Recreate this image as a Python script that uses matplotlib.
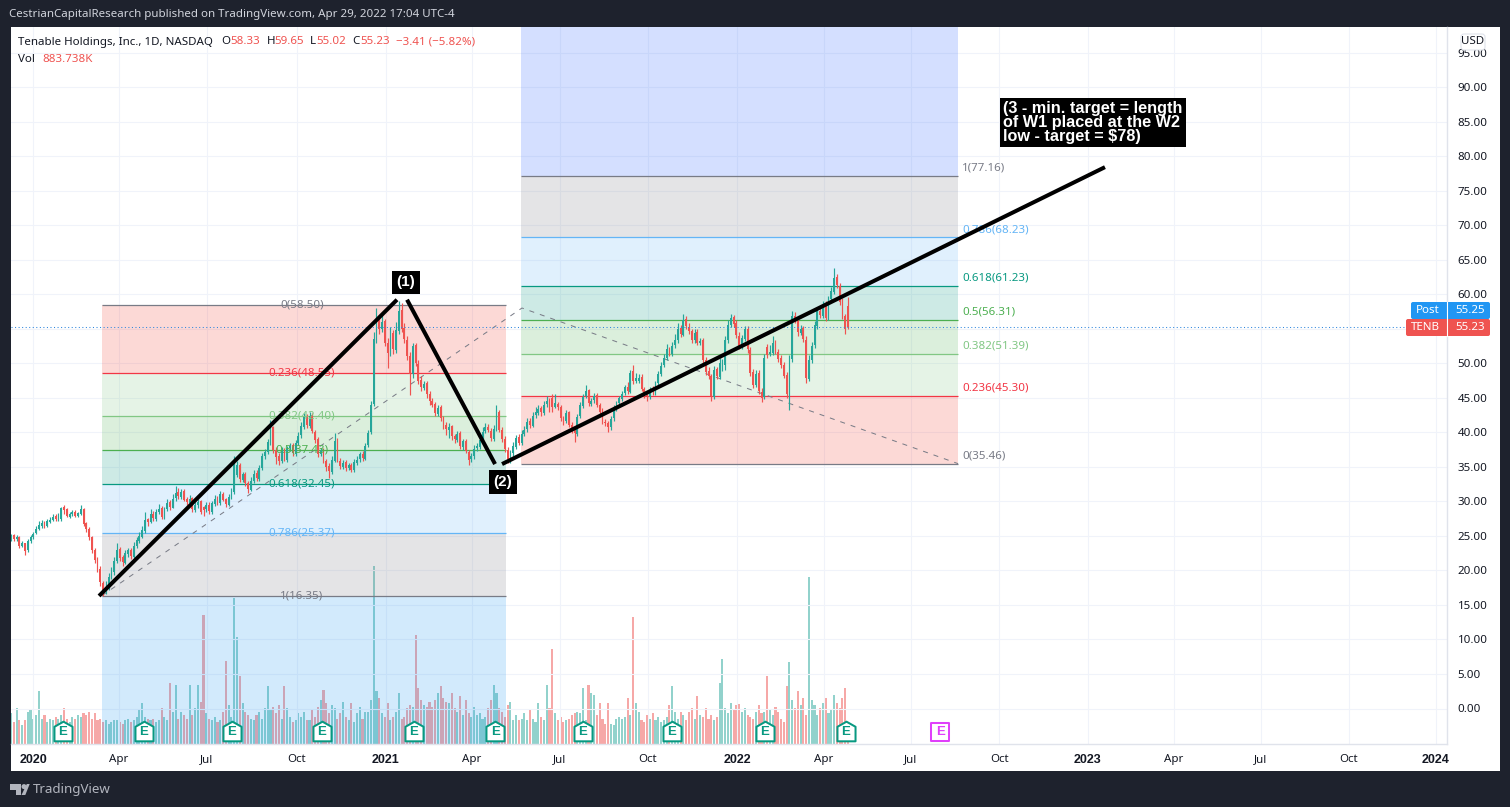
import matplotlib
matplotlib.use("Agg")
import matplotlib.pyplot as plt
import numpy as np
from matplotlib.path import Path
from matplotlib.patches import FancyBboxPatch, Polygon, Circle
from matplotlib.transforms import Affine2D

W, H = 1510, 807
plt.rcParams['font.family'] = ['Noto Sans', 'DejaVu Sans']
FS = 8.3
BOLD = ['Liberation Sans', 'DejaVu Sans']

closes = [25.0,24.6,24.9,23.6,23.9,22.8,24.2,24.9,25.3,26.0,
 26.6,26.9,26.4,27.1,27.3,27.8,27.4,28.0,29.0,28.7,
 27.9,28.1,28.4,27.9,28.3,28.9,26.7,26.0,24.9,23.0,
 21.5,20.2,18.3,17.2,17.6,19.0,19.6,21.3,23.0,21.8,
 21.2,22.5,22.9,22.1,23.6,24.4,25.0,25.8,27.3,27.0,
 28.1,27.6,28.4,28.9,27.8,28.9,29.8,29.2,30.4,31.2,
 30.8,31.4,30.2,29.9,30.4,28.9,29.5,29.9,28.5,28.8,
 29.4,28.6,29.7,30.4,29.9,31.0,30.2,29.6,30.6,31.2,
 35.7,35.2,33.2,33.9,32.6,31.8,33.0,34.0,33.4,34.8,
 36.6,37.1,38.6,40.6,37.5,36.4,35.9,37.3,36.1,37.6,
 38.0,37.0,38.5,39.5,40.9,42.2,41.0,42.4,40.2,38.9,
 36.9,37.3,35.9,35.0,34.4,36.0,38.8,36.0,35.1,35.6,
 34.9,35.2,34.6,35.7,36.0,36.8,36.3,38.0,39.9,44.0,
 53.5,56.5,55.0,56.0,53.0,51.5,54.3,52.0,54.8,57.6,
 55.0,53.5,51.0,48.5,52.5,50.0,47.5,46.5,47.0,45.5,
 44.6,44.0,42.8,43.5,42.0,41.0,40.5,40.8,39.5,39.0,
 39.8,38.0,38.7,37.3,36.0,36.6,37.6,38.0,38.9,40.1,
 40.7,40.3,39.2,40.5,42.9,40.4,39.0,37.6,36.2,36.9,
 38.0,39.2,38.5,39.8,40.4,41.5,41.0,42.4,42.9,43.4,
 42.9,44.0,44.6,43.4,43.6,44.2,43.6,42.1,41.6,42.8,
 41.1,40.2,39.9,42.2,43.9,45.1,46.0,44.2,44.6,45.3,
 44.0,43.0,41.6,41.3,40.8,41.9,43.5,44.2,44.9,45.6,
 46.5,46.0,48.6,47.5,47.8,47.9,46.3,45.4,45.2,46.1,
 45.8,47.1,48.5,49.6,50.8,52.0,51.4,52.5,53.4,55.0,
 54.2,56.3,55.4,54.6,53.4,54.4,53.0,53.2,50.5,48.8,
 48.2,45.2,49.0,48.1,50.1,49.9,53.4,55.5,56.6,55.7,
 54.1,52.4,53.6,54.9,52.0,48.6,46.9,48.5,46.0,45.0,
 50.8,51.2,51.6,53.0,51.8,50.6,49.8,48.2,45.5,50.5,
 56.8,56.2,54.5,55.0,53.5,47.8,50.5,52.5,55.5,57.5,
 57.0,58.5,56.6,59.2,60.4,62.4,61.3,58.9,56.9,54.9,55.23]

opens = [24.6,25.1,24.5,24.9,23.6,23.9,22.9,24.2,24.9,25.4,
 26.0,26.5,26.9,26.5,27.0,27.3,27.9,27.3,27.4,29.2,
 28.9,27.8,28.1,28.5,27.9,28.2,28.9,26.8,26.0,24.9,
 23.0,21.6,20.2,18.2,17.1,17.7,19.1,19.7,21.4,23.1,
 21.9,21.1,22.4,23.0,22.0,23.5,24.3,24.9,25.7,27.4,
 27.0,28.2,27.5,28.5,29.0,27.7,28.9,29.9,29.1,30.5,
 31.3,30.7,31.5,30.3,29.8,30.5,28.8,29.4,30.0,29.2,
 28.9,29.5,28.5,29.6,30.5,29.8,31.1,30.3,29.5,30.7,
 31.3,33.8,35.3,33.1,34.0,32.7,31.7,32.9,34.1,33.3,
 34.9,36.5,37.2,38.5,40.7,37.4,36.5,35.8,37.4,36.0,
 37.7,38.1,36.9,38.4,39.6,40.8,42.3,40.9,42.5,40.1,
 39.0,36.8,37.4,35.8,35.1,34.3,35.9,38.9,35.9,35.0,
 35.7,34.8,35.3,34.5,35.6,36.1,36.9,36.2,38.1,40.0,
 44.1,53.6,56.6,54.9,56.1,52.9,51.4,54.4,51.9,54.7,
 57.7,55.1,53.4,51.1,48.4,52.6,49.9,47.6,46.4,47.1,
 45.6,44.5,44.1,42.7,43.6,41.9,41.1,40.4,40.9,39.4,
 38.9,39.9,37.9,38.8,37.2,36.1,36.5,37.7,37.9,39.0,
 40.2,40.8,40.2,39.1,40.6,43.0,40.3,39.1,37.5,36.1,
 37.0,37.9,39.3,38.4,39.7,40.5,41.6,40.9,42.5,42.8,
 43.5,42.8,44.1,44.7,45.0,43.7,44.1,43.7,42.0,41.7,
 42.9,41.0,40.3,39.8,42.3,43.8,45.2,46.1,44.1,44.7,
 45.4,43.9,43.1,41.5,41.4,40.7,42.0,43.4,44.3,44.8,
 45.7,46.6,45.9,48.9,47.4,47.5,48.0,46.2,45.5,45.1,
 46.2,45.7,47.2,48.4,49.7,50.7,52.1,51.3,52.6,53.3,
 55.1,54.1,56.4,55.3,54.7,53.3,54.5,52.9,53.3,50.4,
 48.9,48.1,45.1,49.1,48.0,49.2,49.8,53.3,55.6,56.7,
 55.8,54.0,52.5,53.5,55.0,51.9,48.7,46.8,48.6,45.9,
 45.1,52.4,51.3,51.5,53.1,51.7,50.7,49.7,48.3,45.4,
 50.6,56.9,56.1,54.4,55.1,53.4,47.7,50.4,52.6,55.4,
 57.6,56.9,58.6,56.5,59.3,60.3,62.5,61.2,59.0,56.8,58.33]

highs = [25.3,25.2,25.1,25.0,24.3,24.0,24.5,25.1,25.6,26.4,
 27.1,27.3,27.1,27.4,27.7,28.2,28.1,28.3,29.2,29.5,
 29.0,28.4,28.7,28.7,28.5,29.4,29.0,27.0,26.3,25.0,
 23.2,21.9,20.6,18.5,18.4,19.6,20.5,22.0,24.0,23.4,
 22.3,23.0,23.3,23.2,24.1,24.9,25.5,26.4,28.5,27.6,
 28.9,28.6,28.9,29.6,29.3,29.2,30.4,30.2,31.1,32.2,
 31.9,31.8,31.8,30.6,30.9,30.7,29.9,30.3,30.2,29.3,
 29.9,29.9,30.0,30.9,30.8,31.5,31.4,30.5,31.0,31.9,
 36.5,35.8,35.5,34.3,34.2,33.0,33.5,34.6,34.5,35.3,
 37.0,37.6,39.1,41.8,40.9,37.9,37.0,37.8,37.7,38.0,
 38.5,38.4,38.9,40.0,41.5,42.8,42.6,42.9,42.8,40.4,
 39.3,37.7,37.7,36.2,35.5,36.5,39.9,39.2,36.3,36.0,
 36.0,35.6,35.6,36.1,36.6,37.2,37.3,38.5,40.4,44.5,
 54.5,58.0,57.0,57.3,56.4,53.6,55.2,54.8,56.0,59.0,
 58.7,55.9,53.9,51.6,53.0,52.9,50.4,48.2,47.5,47.4,
 46.0,45.0,44.4,44.0,43.9,42.4,41.5,41.3,41.1,39.8,
 40.2,40.2,39.1,39.1,37.5,37.0,38.2,38.4,39.4,40.8,
 41.3,41.2,40.6,41.0,43.9,43.2,40.7,39.5,37.9,37.5,
 38.6,39.6,39.7,40.3,40.9,42.0,42.0,42.9,43.6,43.9,
 43.8,44.5,45.2,45.0,45.6,45.5,44.4,44.0,42.4,43.2,
 43.1,41.5,40.6,42.6,44.4,45.6,46.8,46.3,45.0,45.7,
 45.7,44.3,43.5,41.9,41.7,42.3,43.9,44.6,45.3,46.0,
 46.9,47.3,49.0,49.8,48.6,48.4,48.4,46.6,45.8,46.5,
 46.7,47.5,48.9,50.2,51.4,52.8,52.4,53.1,54.2,55.9,
 55.6,57.2,56.8,55.8,55.0,54.9,54.9,53.7,53.6,50.9,
 49.4,48.5,49.6,49.5,50.7,50.6,53.9,56.2,57.2,57.0,
 56.2,54.5,54.1,55.4,55.4,52.4,49.2,49.0,49.0,46.4,
 51.4,52.8,52.7,53.9,53.4,52.1,51.2,50.2,48.7,51.2,
 57.5,57.4,56.5,55.5,55.4,53.9,51.2,53.1,56.1,58.2,
 58.1,59.0,59.0,59.8,61.0,63.8,62.9,61.6,59.4,57.2,59.65]

lows = [24.3,24.3,24.2,23.3,23.4,22.2,22.7,24.0,24.6,25.2,
 25.8,26.2,26.2,26.3,26.8,27.1,27.2,27.1,27.2,28.1,
 27.7,27.6,27.9,27.7,27.7,28.0,26.4,25.6,24.4,22.5,
 21.0,19.8,17.8,16.35,16.6,17.2,18.8,19.4,21.1,21.3,
 20.6,20.9,22.0,21.6,21.8,23.3,24.0,24.7,25.4,26.4,
 26.8,27.2,27.2,28.1,27.4,27.4,28.6,28.8,29.0,30.1,
 30.4,30.4,30.0,29.5,29.4,28.4,28.5,29.1,28.1,27.9,
 28.5,28.2,28.2,29.3,29.5,29.5,30.0,29.2,29.3,30.4,
 31.0,33.5,32.8,32.8,32.2,31.2,31.5,32.6,33.0,33.0,
 34.6,36.2,36.8,38.2,37.0,35.4,35.3,35.5,35.8,35.7,
 37.3,36.6,36.5,38.1,39.2,40.5,40.6,40.6,39.9,38.4,
 36.4,36.5,35.6,34.4,33.4,34.0,35.7,35.7,34.7,34.7,
 34.4,34.5,34.2,34.3,35.3,35.7,35.9,36.0,37.8,39.8,
 43.8,53.0,54.2,54.5,52.5,49.3,51.0,51.3,51.5,54.2,
 54.5,53.0,50.4,45.4,47.9,49.6,47.0,46.0,46.1,45.0,
 44.0,43.6,42.3,42.4,41.6,40.5,39.6,39.2,38.9,38.4,
 38.6,37.6,37.5,37.0,35.3,35.7,36.2,37.3,37.6,38.7,
 39.9,40.0,38.7,38.8,40.2,40.0,38.6,37.2,35.5,35.6,
 36.6,37.6,38.1,38.2,39.4,40.1,40.6,40.7,42.1,42.5,
 42.4,42.5,43.7,43.0,43.0,43.5,43.2,41.7,41.1,41.4,
 40.7,39.9,38.6,39.5,42.0,43.5,44.9,43.8,43.8,44.3,
 43.6,42.7,41.2,40.9,40.1,40.4,41.7,43.1,44.0,44.5,
 45.4,45.6,45.7,47.0,47.1,47.2,46.0,45.0,44.5,44.8,
 45.4,45.4,46.9,48.2,49.4,50.4,51.0,51.1,52.2,53.0,
 53.8,53.9,55.0,54.2,52.9,53.0,52.6,52.7,50.1,48.3,
 47.7,44.6,44.8,47.7,47.7,48.9,49.0,53.0,55.2,55.2,
 53.7,52.0,52.1,53.2,51.5,48.2,46.4,46.5,45.6,44.4,
 44.8,50.7,51.1,51.2,51.4,50.2,49.3,47.8,44.9,43.3,
 50.2,55.8,54.0,54.1,53.1,47.2,47.4,50.0,52.2,55.0,
 56.6,56.6,56.1,56.2,59.0,60.0,60.9,58.5,56.4,54.3,55.02]

volumes_m = [1.8,1.3,2.1,1.4,1.1,1.4,1.9,2.0,1.5,1.7,
 3.1,1.5,1.7,1.3,1.5,1.4,1.6,1.5,1.7,2.1,
 1.5,1.3,1.6,1.5,1.7,1.6,1.8,1.7,1.9,1.5,
 1.8,1.4,1.5,1.3,1.4,1.2,1.3,1.4,1.4,1.3,
 1.2,1.4,1.5,1.3,1.4,1.6,2.0,2.4,1.6,1.5,
 1.4,1.5,1.3,1.4,2.1,1.6,1.4,3.6,1.9,3.5,
 1.5,1.9,1.7,1.5,3.5,1.7,2.1,3.5,2.5,7.6,
 1.8,1.5,1.4,1.6,1.3,1.4,1.9,4.9,2.3,1.6,
 8.6,6.3,4.0,2.4,1.9,1.7,1.5,1.4,1.7,1.9,
 1.5,2.1,3.4,2.0,2.2,1.8,2.3,1.5,3.4,2.1,
 1.6,1.3,1.4,1.8,1.6,1.9,1.4,1.4,2.0,1.6,
 2.2,2.6,3.2,2.4,1.8,2.3,2.1,1.5,1.8,2.5,
 1.6,1.4,2.4,1.3,1.8,2.2,1.5,1.9,1.9,2.6,
 10.5,3.1,2.7,1.8,1.6,2.4,1.4,1.6,1.9,3.0,
 1.5,1.6,2.1,2.3,2.2,6.4,3.3,2.6,2.3,2.2,
 2.5,2.2,2.6,3.0,3.4,2.7,2.5,2.4,3.0,2.1,
 1.9,2.8,1.7,2.6,1.8,1.6,2.2,1.7,1.8,1.5,
 1.6,2.1,2.6,3.5,3.0,2.1,1.9,1.6,2.3,2.5,
 1.4,1.7,1.4,1.5,1.8,1.4,2.0,1.5,1.3,2.4,
 1.6,1.4,3.5,2.1,5.6,1.8,1.4,1.6,1.3,1.4,
 1.5,1.7,1.8,1.9,1.8,3.3,1.4,3.5,3.0,2.9,
 1.7,2.4,1.5,1.2,2.4,1.2,1.1,1.5,1.6,1.5,
 1.6,2.7,1.7,7.5,2.4,1.9,1.4,1.3,1.7,1.5,
 1.8,1.4,1.6,1.3,1.4,1.6,2.3,3.4,1.9,1.5,
 1.9,1.7,1.4,1.9,2.1,1.5,2.8,1.7,1.6,2.1,
 1.5,1.7,1.4,1.6,3.6,5.0,2.1,1.8,2.4,2.0,
 2.3,2.35,1.9,2.1,1.7,1.6,1.5,1.9,2.3,1.8,
 1.9,4.0,2.0,1.7,2.2,1.9,1.5,1.3,3.4,4.8,
 2.6,2.1,3.1,2.3,2.7,1.7,9.8,2.6,2.3,1.7,
 2.1,2.4,2.7,1.8,2.0,2.9,2.4,2.1,2.7,3.3,0.88]

assert len(closes) == len(opens) == len(highs) == len(lows) == len(volumes_m) == 301

bars = np.arange(301) * 2.0   # one candle per two sessions

time_tick_bars = [15.8,77.4,140.5,204.7,268.8,330.5,393.2,456.6,520.4,582.8,645.2,708.6,772,833.7,896,959,1021.5]
time_tick_labels = ['2020','Apr','Jul','Oct','2021','Apr','Jul','Oct','2022','Apr','Jul','Oct','2023','Apr','Jul','Oct','2024']
price_ticks = list(range(0, 100, 5))

earnings_bars = [37.3,95.3,158.4,222.9,288.9,347,410,473.8,540.5,598.6]
next_earnings_bars = [666]

fib_levels = [0, 0.236, 0.382, 0.5, 0.618, 0.786, 1]
left_prices = [58.50, 48.55, 42.40, 37.43, 32.45, 25.37, 16.35]
right_prices = [35.46, 45.30, 51.39, 56.31, 61.23, 68.23, 77.16]
left_span = [65.2, 354.8]
right_span = [365.6, 678.9]
fib_line_colors = ['#787b86','#f23645','#81c784','#4caf50','#089981','#64b5f6','#787b86']
fib_fill_colors = ['#f44336','#81c784','#4caf50','#089981','#64b5f6','#787b86']

wave_bars = [[63.1,276.7],[283.9,347],[352,784.2]]
wave_prices = [[16.3,59.2],[59.2,35.4],[35.4,78.4]]
trend_bars = [65.2,366.3,678.9]
trend_prices = [16.35,58.0,35.46]

UP, DOWN = '#26a69a', '#ef5350'
DARK = '#1e222d'
GRID = '#f0f3fa'
BORDER = '#e0e3eb'
TXT = '#131722'

fig = plt.figure(figsize=(W/100, H/100), dpi=100, facecolor=DARK)
pix = Affine2D().scale(1/W, -1/H).translate(0, 1) + fig.transFigure

def ftext(x, y, s, **kw):
    kw.setdefault('fontsize', FS)
    kw.setdefault('va', 'center')
    kw.setdefault('ha', 'left')
    kw.setdefault('zorder', 10)
    return fig.text(x/W, 1-y/H, s, **kw)

# chart panel
fig.add_artist(FancyBboxPatch((11, 27), 1488.5, 744, boxstyle='square,pad=0', transform=pix,
                              fc='white', ec='none', zorder=-5))

L, R, T, B = 11, 1446.5, 27, 744
rect = [L/W, 1-B/H, (R-L)/W, (B-T)/H]
ax = fig.add_axes(rect, zorder=2)
ax.patch.set_visible(False)
vol = fig.add_axes(rect, zorder=1, sharex=ax)
vol.set_facecolor('white')
for s in vol.spines.values():
    s.set_visible(False)
vol.tick_params(left=False, bottom=False, labelleft=False, labelbottom=False)

xlim = (0, (R-L)/1.395)
ylim = ((708.5-744)/6.905, (708.5-27)/6.905)
ax.set_xlim(*xlim)
ax.set_ylim(*ylim)
vol.set_ylim(0, 717/17)

O, Hi, Lo, C, V = map(np.array, (opens, highs, lows, closes, volumes_m))
colors = np.where(C >= O, UP, DOWN)

vol.bar(bars, V, width=1.5, color=colors, alpha=0.5, linewidth=0)

# axes and grid
ax.set_xticks(time_tick_bars)
ax.set_xticklabels(time_tick_labels)
ax.set_yticks(price_ticks)
ax.set_yticklabels([f'{p:.2f}' for p in price_ticks])
ax.yaxis.tick_right()
ax.tick_params(axis='both', length=0, labelsize=FS, labelcolor=TXT)
ax.tick_params(axis='x', pad=7)
ax.tick_params(axis='y', pad=8)
for lab, s in zip(ax.get_xticklabels(), time_tick_labels):
    if s.isdigit():
        lab.set_family(BOLD)
        lab.set_fontweight('bold')
        lab.set_fontsize(9)
ax.grid(True, color=GRID, lw=0.8, zorder=0)
ax.set_axisbelow(True)
for k in ('top', 'left'):
    ax.spines[k].set_visible(False)
for k in ('bottom', 'right'):
    ax.spines[k].set_color(BORDER)
    ax.spines[k].set_linewidth(1)

# fib zones
def fib(span, prices, extra_to, extra_color, labeller):
    for a, b, col in zip(prices[:-1], prices[1:], fib_fill_colors):
        ax.fill_between(span, a, b, color=col, alpha=0.2, lw=0, zorder=1)
    ax.fill_between(span, prices[-1], extra_to, color=extra_color, alpha=0.2, lw=0, zorder=1)
    for p, col in zip(prices, fib_line_colors):
        ax.plot(span, [p, p], color=col, lw=0.9, zorder=1.5, solid_capstyle='butt')
    for lev, p, col in zip(fib_levels, prices, fib_line_colors):
        labeller(f'{lev}({p:.2f})', p, col)

def left_label(s, p, col):
    ax.text(208.6, p, s, color=col, ha='center', va='center', fontsize=FS, zorder=4)

def right_label(s, p, col):
    ax.annotate(s, (681.7, p), xytext=(0, 5.3), textcoords='offset points',
                color=col, ha='left', va='center', fontsize=FS, zorder=4)

fib(left_span, left_prices, ylim[0], '#2196f3', left_label)
fib(right_span, right_prices, ylim[1], '#2962ff', right_label)

ax.plot(trend_bars, trend_prices, color='#787b86', lw=0.72, ls=(0, (5, 6)), zorder=2)

# candles
ax.vlines(bars, Lo, Hi, colors=colors, lw=0.85, zorder=3)
ax.bar(bars, np.abs(C-O), bottom=np.minimum(C, O), width=1.3, color=colors, lw=0, zorder=3)

# last price line
ax.axhline(C[-1], color='#2e86de', lw=0.75, ls=(0, (1, 2.4)), zorder=3.5)

# waves
for bx, py in zip(wave_bars, wave_prices):
    ax.plot(bx, py, color='black', lw=2.9, solid_capstyle='butt', zorder=5)

box = dict(boxstyle='square,pad=0.3', fc='black', ec='black', lw=0)
ax.text(283.2, 61.7, '(1)', color='white', family=BOLD, fontweight='bold', fontsize=11, ha='center', va='center', bbox=box, zorder=6)
ax.text(352.7, 32.8, '(2)', color='white', family=BOLD, fontweight='bold', fontsize=11, ha='center', va='center', bbox=box, zorder=6)
ax.text(711.1, 84.87, '(3 - min. target = length\nof W1 placed at the W2\nlow - target = $78)',
        color='white', family=BOLD, fontweight='bold', fontsize=11.7, ha='left', va='center', linespacing=0.9,
        bbox=dict(boxstyle='square,pad=0.2', fc='black', ec='black', lw=0), zorder=6)

# earnings markers
house = Path([(-0.46,-0.5),(0.46,-0.5),(0.46,0.24),(0,0.5),(-0.46,0.24),(-0.46,-0.5)], closed=True)
ey = (708.5-731)/6.905
ax.scatter(earnings_bars, [ey]*len(earnings_bars), marker=house, s=200, fc='white', ec='#089981', lw=1.45, zorder=7, clip_on=False)
for b in earnings_bars:
    ax.text(b, ey-0.15, 'E', color='#089981', family=BOLD, fontsize=9.5, fontweight='bold', ha='center', va='center', zorder=8)
ey2 = (708.5-732)/6.905
ax.scatter(next_earnings_bars, [ey2], marker='s', s=175, fc='white', ec='#e040fb', lw=1.45, zorder=7)
ax.text(next_earnings_bars[0], ey2, 'E', color='#e040fb', family=BOLD, fontsize=9.5, fontweight='bold', ha='center', va='center', zorder=8)

# header + legend
ftext(9, 15, 'CestrianCapitalResearch published on TradingView.com, Apr 29, 2022 17:04 UTC-4', color='#d1d4dc')
ftext(18, 42, 'Tenable Holdings, Inc., 1D, NASDAQ', color=TXT)
for x, s, c in [(221,'O',TXT),(230.7,'58.33',DOWN),(266.7,'H',TXT),(274.7,'59.65',DOWN),
                (310,'L',TXT),(316.7,'55.02',DOWN),(352,'C',TXT),(360,'55.23',DOWN),
                (395.7,'\u22123.41 (\u22125.82%)',DOWN)]:
    ftext(x, 42, s, color=c)
ftext(18, 59, 'Vol', color=TXT)
ftext(42, 59, '883.738K', color=DOWN)

# price labels
def tag(x0, y0, x1, y1, col):
    fig.add_artist(FancyBboxPatch((x0+2, y0+2), x1-x0-4, y1-y0-4, boxstyle='round,pad=2,rounding_size=2',
                                  transform=pix, fc=col, ec='none', zorder=9))
tag(1411, 302, 1490, 319, '#2196f3')
tag(1406, 319, 1490, 336, '#ef5350')
ftext(1416, 310.5, 'Post', color='white', ha='left')
ftext(1470, 310.5, '55.25', color='white', ha='center')
ftext(1411, 327.5, 'TENB', color='white', ha='left')
ftext(1470, 327.5, '55.23', color='white', ha='center')
fig.add_artist(plt.Line2D([1446.5, 1446.5], [302, 336], transform=pix, color='white', lw=0.8, zorder=9.5))

# USD box
fig.add_artist(FancyBboxPatch((1462, 35), 22, 14, boxstyle='round,pad=1,rounding_size=3', transform=pix,
                              fc='white', ec=BORDER, lw=0.8, zorder=9))
ftext(1473, 42, 'USD', color=TXT, ha='center')

# footer logo and name
LOGO = '#b2b5be'
fig.add_artist(Polygon([(10,784),(21,784),(21,795),(15.5,795),(15.5,789.5),(10,789.5)], closed=True, transform=pix, fc=LOGO, ec='none', zorder=9))
fig.add_artist(Circle((24,786.6), 2.5, transform=pix, fc=LOGO, ec='none', zorder=9))
fig.add_artist(Polygon([(21.5,795),(26.8,784),(29.7,784),(25.3,795)], closed=True, transform=pix, fc=LOGO, ec='none', zorder=9))
ftext(33, 789, 'TradingView', color=LOGO, fontsize=9.6)

fig.savefig('out.png', dpi=100, facecolor=fig.get_facecolor())
